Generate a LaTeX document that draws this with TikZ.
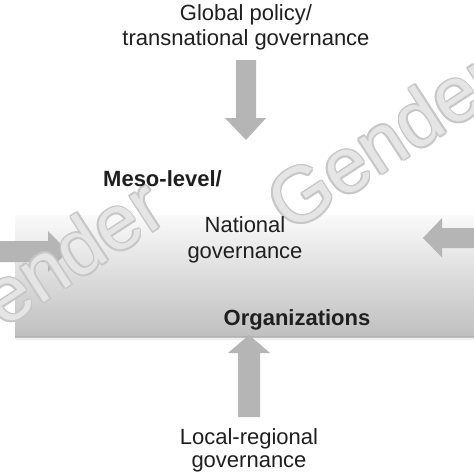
\documentclass[tikz,border=0pt]{standalone}
\usepackage{fontspec}
\setmainfont{Liberation Sans}
\begin{document}
\begin{tikzpicture}[x=1pt,y=-1pt,
  lbl/.style={font=\fontsize{22}{25.5}\selectfont, text=black!88, inner sep=0pt, align=center},
  boldlbl/.style={font=\fontsize{22}{25.5}\selectfont\bfseries, text=black!88, inner sep=0pt},
  blockarrow/.style={fill=black!29, draw=none},
  wm/.style={font=\fontsize{78}{78}\selectfont, anchor=base west, rotate=33, inner sep=0pt},
]
\useasboundingbox (0,0) rectangle (474,474);
\fill[white] (0,0) rectangle (474,474);

% meso-level band
\fill[black!12, opacity=0.5] (15,337) rectangle (474,340);
\shade[top color=black!2, bottom color=black!25] (15,215) rectangle (474,337);
\draw[black!30, line width=1pt] (15,336.5) -- (474,336.5);

% block arrows
\fill[blockarrow] (236,60) -- (256,60) -- (256,118) -- (266,118) -- (246,140) -- (225,118) -- (236,118) -- cycle;
\fill[blockarrow] (238,417) -- (260,417) -- (260,353) -- (270,353) -- (249,335) -- (228,353) -- (238,353) -- cycle;
\fill[blockarrow] (0,241) -- (48,241) -- (48,231) -- (68,251.5) -- (48,272) -- (48,262) -- (0,262) -- cycle;
\fill[blockarrow] (474,228) -- (442,228) -- (442,218) -- (423,238) -- (442,257.5) -- (442,248) -- (474,248) -- cycle;

% watermark
\foreach \sx/\sy [count=\i] in {-48/362, 290/234} {
  \foreach \a in {0,45,...,315}
    \node[wm, text=black!22, shift={(\a:1.8pt)}] at (\sx,\sy) {Gender};
  \node[wm, text=white, opacity=0.55] (wm\i) at (\sx,\sy) {Gender};
}

% texts
\node[lbl, anchor=base] (global) at (246,45.5) {Global policy/\\transnational governance};
\node[boldlbl, anchor=base west] (meso) at (103,186) {Meso-level/};
\node[lbl, anchor=base] (national) at (245,258) {National\\governance};
\node[boldlbl, anchor=base] (org) at (297,325) {Organizations};
\node[lbl, anchor=base] (local) at (249,467) {Local-regional\\[-2.5pt]governance};
\end{tikzpicture}
\end{document}
